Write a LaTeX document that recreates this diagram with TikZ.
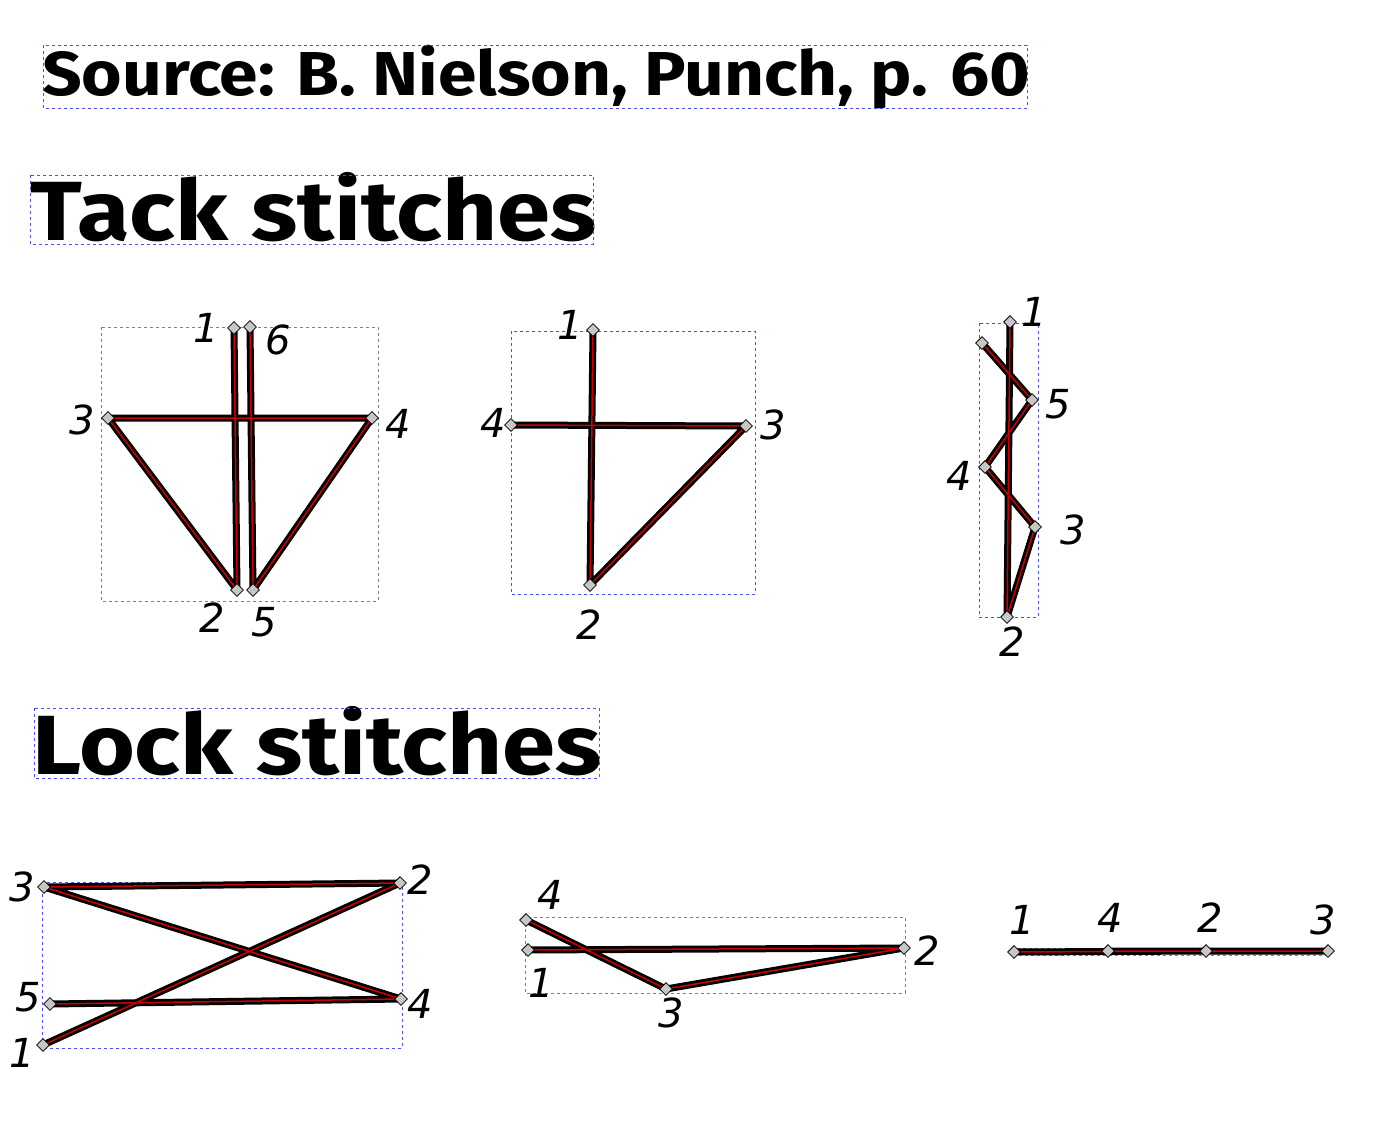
\documentclass[tikz,border=0pt]{standalone}
\usepackage{fontspec}
\usetikzlibrary{shapes.geometric}
\setmainfont{Fira Sans}
\newfontfamily\numfont{DejaVu Sans}
\begin{document}
\begin{tikzpicture}[x=1pt,y=-1pt,
  stitch/.style={line width=7pt,black,line join=round},
  thread/.style={line width=1.5pt,red!80!black,line join=round},
  handle/.style={diamond,draw=black,fill=gray!45,inner sep=0pt,minimum size=13pt,line width=0.8pt},
  num/.style={font=\numfont\itshape\fontsize{40}{40}\selectfont,inner sep=0pt},
  gbox/.style={draw=gray,dashed,line width=0.5pt},
  bbox/.style={draw=blue!70,dashed,line width=0.5pt},
  title/.style={font=\bfseries\fontsize{#1}{#1}\selectfont,anchor=base west,inner sep=0pt}]
\useasboundingbox (0,0) rectangle (1378,1130);
% titles
\node[title=62,xscale=1.12] (src) at (42,95) {Source: B. Nielson, Punch, p. 60};
\draw[bbox] (43,45) rectangle (1027,108);
\node[title=84,xscale=1.14] (tack) at (30,240) {Tack stitches};
\draw[bbox] (30,175) rectangle (593,244);
\node[title=84,xscale=1.14] (lock) at (32,774) {Lock stitches};
\draw[bbox] (34,708) rectangle (599,778);
\newcommand{\stitchpath}[1]{\draw[stitch] #1; \draw[thread] #1;}
% Tack 1
\draw[gbox] (101,327) rectangle (378,601);
\coordinate (a1) at (234,328); \coordinate (a6) at (250,327);
\coordinate (a3) at (108,418); \coordinate (a4) at (372,418);
\coordinate (a2) at (237,590); \coordinate (a5) at (253,590);
\stitchpath{(a1)--(a2)--(a3)--(a4)--(a5)--(a6)}
\foreach \p in {a1,a2,a3,a4,a5,a6} \node[handle] at (\p) {};
\node[num] at (206,328) {1}; \node[num] at (278,340) {6};
\node[num] at (82,420) {3}; \node[num] at (398,424) {4};
\node[num] at (212,618) {2}; \node[num] at (264,622) {5};
% Tack 2
\draw[bbox] (511,331) rectangle (755,594);
\coordinate (b1) at (593,330); \coordinate (b2) at (590,585);
\coordinate (b3) at (746,426); \coordinate (b4) at (511,425);
\stitchpath{(b1)--(b2)--(b3)--(b4)}
\foreach \p in {b1,b2,b3,b4} \node[handle] at (\p) {};
\node[num] at (570,325) {1}; \node[num] at (589,625) {2};
\node[num] at (773,425) {3}; \node[num] at (493,423) {4};
% Tack 3
\draw[bbox] (979,323) rectangle (1038,617);
\coordinate (c1) at (1010,322); \coordinate (c2) at (1007,617);
\coordinate (c3) at (1035,527); \coordinate (c4) at (985,467);
\coordinate (c5) at (1032,400); \coordinate (c6) at (982,343);
\stitchpath{(c1)--(c2)--(c3)--(c4)--(c5)--(c6)}
\foreach \p in {c1,c2,c3,c4,c5,c6} \node[handle] at (\p) {};
\node[num] at (1034,312) {1}; \node[num] at (1058,404) {5};
\node[num] at (959,476) {4}; \node[num] at (1073,530) {3};
\node[num] at (1012,642) {2};
% Lock 1
\draw[bbox] (42,882) rectangle (402,1048);
\coordinate (d1) at (43,1045); \coordinate (d2) at (400,883);
\coordinate (d3) at (44,887); \coordinate (d4) at (401,999);
\coordinate (d5) at (50,1004);
\stitchpath{(d1)--(d2)--(d3)--(d4)--(d5)}
\foreach \p in {d1,d2,d3,d4,d5} \node[handle] at (\p) {};
\node[num] at (22,887) {3}; \node[num] at (420,880) {2};
\node[num] at (28,997) {5}; \node[num] at (420,1004) {4};
\node[num] at (22,1053) {1};
% Lock 2
\draw[gbox] (525,917) rectangle (905,993);
\coordinate (e1) at (528,950); \coordinate (e2) at (904,948);
\coordinate (e3) at (666,989); \coordinate (e4) at (526,920);
\stitchpath{(e1)--(e2)--(e3)--(e4)}
\foreach \p in {e1,e2,e3,e4} \node[handle] at (\p) {};
\node[num] at (550,895) {4}; \node[num] at (541,983) {1};
\node[num] at (927,951) {2}; \node[num] at (671,1013) {3};
% Lock 3
\draw[gbox] (1014,948) rectangle (1328,955);
\coordinate (f1) at (1014,952); \coordinate (f4) at (1108,951);
\coordinate (f2) at (1206,951); \coordinate (f3) at (1328,951);
\stitchpath{(f1)--(f2)--(f3)--(f4)}
\foreach \p in {f1,f2,f3,f4} \node[handle] at (\p) {};
\node[num] at (1022,920) {1}; \node[num] at (1110,918) {4};
\node[num] at (1210,918) {2}; \node[num] at (1323,920) {3};
\end{tikzpicture}
\end{document}
